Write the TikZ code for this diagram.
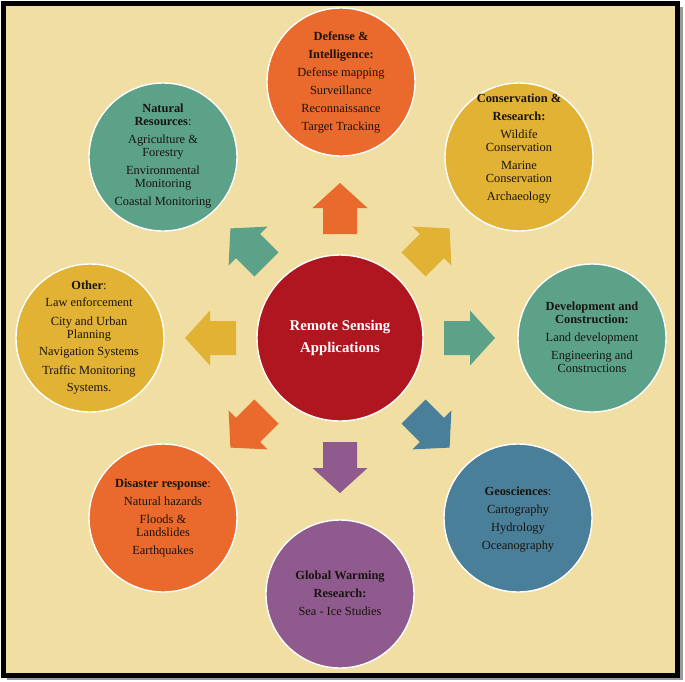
\documentclass[tikz,border=0pt]{standalone}
\usepackage{fontspec}
\setmainfont{Liberation Serif}
\definecolor{bg}{RGB}{240,222,163}
\definecolor{rsred}{RGB}{175,22,32}
\definecolor{rsorange}{RGB}{233,106,44}
\definecolor{rsgold}{RGB}{225,178,52}
\definecolor{rsgreen}{RGB}{91,162,137}
\definecolor{rsblue}{RGB}{74,127,153}
\definecolor{rspurple}{RGB}{143,90,142}
\definecolor{ink}{RGB}{25,20,15}
\begin{document}
\begin{tikzpicture}[x=1pt,y=-1pt,
  bubble/.style={circle,draw=white,line width=1.4pt,minimum size=148pt,inner sep=0pt},
  btext/.style={align=center,text=ink,inner sep=0pt,font=\fontsize{12.4}{13}\selectfont}]
\useasboundingbox (0,0) rectangle (685,681);
\fill[white] (0,0) rectangle (685,681);
\fill[black!40] (7,7) rectangle (683,680);
\filldraw[fill=bg,draw=black,line width=4.5pt] (3.5,3.5) rectangle (677.5,675.5);

% centre
\node[bubble,fill=rsred,minimum size=166pt] (center) at (340,338) {};
\node[btext,text=white,font=\bfseries\fontsize{14.8}{22}\selectfont] (centertext) at (340,338) {Remote Sensing\\Applications};

% block arrows
\foreach \ang/\col in {90/rsorange,45/rsgold,0/rsgreen,-45/rsblue,-90/rspurple,-135/rsorange,180/rsgold,135/rsgreen}{
  \begin{scope}[shift={(center.center)},rotate=\ang]
    \fill[\col] (104,-17) -- (130,-17) -- (130,-27.5) -- (155,0) -- (130,27.5) -- (130,17) -- (104,17) -- cycle;
  \end{scope}
}

% outer circles
\node[bubble,fill=rsorange] (defense) at (341,82) {};
\node[btext] (defensetext) at (341,82) {\textbf{Defense \&}\\[5pt]\textbf{Intelligence:}\\[5pt]Defense mapping\\[5pt]Surveillance\\[5pt]Reconnaissance\\[5pt]Target Tracking};

\node[bubble,fill=rsgold] (conservation) at (519,157) {};
\node[btext] (conservationtext) at (519,148.5) {\textbf{Conservation \&}\\[5pt]\textbf{Research:}\\[5pt]Wildife\\Conservation\\[5pt]Marine\\Conservation\\[5pt]Archaeology};

\node[bubble,fill=rsgreen] (development) at (592,338) {};
\node[btext] (developmenttext) at (592,337.5) {\textbf{Development and}\\\textbf{Construction:}\\[5pt]Land development\\[5pt]Engineering and\\Constructions};

\node[bubble,fill=rsblue] (geo) at (518,518) {};
\node[btext] (geotext) at (518,520) {\textbf{Geosciences}:\\[5pt]Cartography\\[5pt]Hydrology\\[5pt]Oceanography};

\node[bubble,fill=rspurple] (global) at (340,594) {};
\node[btext] (globaltext) at (340,593) {\textbf{Global Warming}\\[5pt]\textbf{Research:}\\[5pt]Sea - Ice Studies};

\node[bubble,fill=rsorange] (disaster) at (163,518) {};
\node[btext] (disastertext) at (163,518) {\textbf{Disaster response}:\\[5pt]Natural hazards\\[5pt]Floods \&\\Landslides\\[5pt]Earthquakes};

\node[bubble,fill=rsgold] (other) at (90,338) {};
\node[btext] (othertext) at (89,337.5) {\textbf{Other}:\\[4pt]Law enforcement\\[6pt]City and Urban\\Planning\\[4pt]Navigation Systems\\[6pt]Traffic Monitoring\\[4pt]Systems.};

\node[bubble,fill=rsgreen] (natural) at (163,157) {};
\node[btext] (naturaltext) at (163,156.5) {\textbf{Natural}\\\textbf{Resources}:\\[5pt]Agriculture \&\\Forestry\\[5pt]Environmental\\Monitoring\\[5pt]Coastal Monitoring};
\end{tikzpicture}
\end{document}
